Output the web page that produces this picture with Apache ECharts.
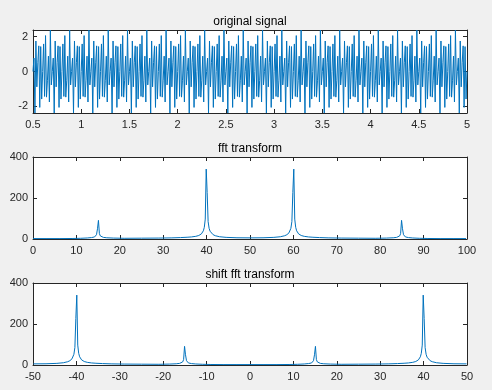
<!DOCTYPE html>
<html><head><meta charset="utf-8">
<script src="https://cdn.jsdelivr.net/npm/echarts@6/dist/echarts.min.js"></script>
<style>html,body{margin:0;padding:0;background:#f0f0f0;}#c{width:492px;height:390px;}</style>
</head><body><div id="c"></div>
<script>
// sampling grid of the time signal (t = 0.5 : 0.01 : 5)
const signalStart = 0.5;
const signalStep = 0.01;
// signal values (one value per sample)
const signalValues = [
0,0.77,-2.38,1.75,-0.88,0.5,1.47,-2.06,1.43,-1.58,0,1.58,-1.43,2.06,-1.47,-0.5,0.88,-1.75,2.38,-0.77,
0,0.77,-2.38,1.75,-0.88,0.5,1.47,-2.06,1.43,-1.58,0,1.58,-1.43,2.06,-1.47,-0.5,0.88,-1.75,2.38,-0.77,
0,0.77,-2.38,1.75,-0.88,0.5,1.47,-2.06,1.43,-1.58,0,1.58,-1.43,2.06,-1.47,-0.5,0.88,-1.75,2.38,-0.77,
0,0.77,-2.38,1.75,-0.88,0.5,1.47,-2.06,1.43,-1.58,0,1.58,-1.43,2.06,-1.47,-0.5,0.88,-1.75,2.38,-0.77,
0,0.77,-2.38,1.75,-0.88,0.5,1.47,-2.06,1.43,-1.58,0,1.58,-1.43,2.06,-1.47,-0.5,0.88,-1.75,2.38,-0.77,
0,0.77,-2.38,1.75,-0.88,0.5,1.47,-2.06,1.43,-1.58,0,1.58,-1.43,2.06,-1.47,-0.5,0.88,-1.75,2.38,-0.77,
0,0.77,-2.38,1.75,-0.88,0.5,1.47,-2.06,1.43,-1.58,0,1.58,-1.43,2.06,-1.47,-0.5,0.88,-1.75,2.38,-0.77,
0,0.77,-2.38,1.75,-0.88,0.5,1.47,-2.06,1.43,-1.58,0,1.58,-1.43,2.06,-1.47,-0.5,0.88,-1.75,2.38,-0.77,
0,0.77,-2.38,1.75,-0.88,0.5,1.47,-2.06,1.43,-1.58,0,1.58,-1.43,2.06,-1.47,-0.5,0.88,-1.75,2.38,-0.77,
0,0.77,-2.38,1.75,-0.88,0.5,1.47,-2.06,1.43,-1.58,0,1.58,-1.43,2.06,-1.47,-0.5,0.88,-1.75,2.38,-0.77,
0,0.77,-2.38,1.75,-0.88,0.5,1.47,-2.06,1.43,-1.58,0,1.58,-1.43,2.06,-1.47,-0.5,0.88,-1.75,2.38,-0.77,
0,0.77,-2.38,1.75,-0.88,0.5,1.47,-2.06,1.43,-1.58,0,1.58,-1.43,2.06,-1.47,-0.5,0.88,-1.75,2.38,-0.77,
0,0.77,-2.38,1.75,-0.88,0.5,1.47,-2.06,1.43,-1.58,0,1.58,-1.43,2.06,-1.47,-0.5,0.88,-1.75,2.38,-0.77,
0,0.77,-2.38,1.75,-0.88,0.5,1.47,-2.06,1.43,-1.58,0,1.58,-1.43,2.06,-1.47,-0.5,0.88,-1.75,2.38,-0.77,
0,0.77,-2.38,1.75,-0.88,0.5,1.47,-2.06,1.43,-1.58,0,1.58,-1.43,2.06,-1.47,-0.5,0.88,-1.75,2.38,-0.77,
0,0.77,-2.38,1.75,-0.88,0.5,1.47,-2.06,1.43,-1.58,0,1.58,-1.43,2.06,-1.47,-0.5,0.88,-1.75,2.38,-0.77,
0,0.77,-2.38,1.75,-0.88,0.5,1.47,-2.06,1.43,-1.58,0,1.58,-1.43,2.06,-1.47,-0.5,0.88,-1.75,2.38,-0.77,
0,0.77,-2.38,1.75,-0.88,0.5,1.47,-2.06,1.43,-1.58,0,1.58,-1.43,2.06,-1.47,-0.5,0.88,-1.75,2.38,-0.77,
0,0.77,-2.38,1.75,-0.88,0.5,1.47,-2.06,1.43,-1.58,0,1.58,-1.43,2.06,-1.47,-0.5,0.88,-1.75,2.38,-0.77,
0,0.77,-2.38,1.75,-0.88,0.5,1.47,-2.06,1.43,-1.58,0,1.58,-1.43,2.06,-1.47,-0.5,0.88,-1.75,2.38,-0.77,
0,0.77,-2.38,1.75,-0.88,0.5,1.47,-2.06,1.43,-1.58,0,1.58,-1.43,2.06,-1.47,-0.5,0.88,-1.75,2.38,-0.77,
0,0.77,-2.38,1.75,-0.88,0.5,1.47,-2.06,1.43,-1.58,0,1.58,-1.43,2.06,-1.47,-0.5,0.88,-1.75,2.38,-0.77,
0,0.77,-2.38,1.75,-0.88,0.5,1.47,-2.06,1.43,-1.58,0
];

// fft magnitude spectrum (frequency, magnitude)
const fftFreq = [0,3,6,9,11,12.5,13.5,14.19,14.41,14.63,14.86,15.08,15.30,15.52,15.74,16.2,17,18.5,21,25,29,32,34,35.5,36.5,37.5,38.2,38.8,
  39.02,39.25,39.47,39.69,39.91,40.13,40.35,40.58,40.80,41.02,41.5,42,43,44.5,47,50,53,55.5,57,58,58.5,
  58.98,59.20,59.42,59.65,59.87,60.09,60.31,60.53,60.75,60.98,61.2,61.8,62.5,63.5,64.5,66,68,71,75,79,81.5,83,83.8,
  84.26,84.48,84.70,84.92,85.14,85.37,85.59,85.81,86.5,87.5,89,91,94,97,99.78];
const fftMag = [2,2,2,2.5,3.5,5,7,10,14,21,50,91,26,15,11,8,6,4.5,3.5,4,4.5,5.5,7,8.5,10,13,17,25,
  31,40,57,97,341,227,85,52,38,30,21,16,11,8,6,5.5,6,8,11,16,21,
  30,38,52,85,227,341,97,57,40,31,25,17,13,10,8.5,7,5.5,4.5,4,3.5,4.5,6,8,
  11,15,26,91,50,21,14,10,7,5,3.5,2.5,2,2,2];

// shifted spectrum (frequency, magnitude)
const shiftFreq = [-49.89,-47,-44.5,-43,-42,-41.5,-41.02,-40.80,-40.58,-40.35,-40.13,-39.91,-39.69,-39.47,-39.25,-39.02,-38.8,-38.2,-37.5,-36.5,-35.5,-34,-32,-29,-25,-21,
  -18.5,-17,-16.2,-15.74,-15.52,-15.30,-15.08,-14.86,-14.63,-14.41,-14.19,-13.5,-12.5,-11,-9,-6,-3,
  0,3,6,9,11,12.5,13.5,14.19,14.41,14.63,14.86,15.08,15.30,15.52,15.74,16.2,17,18.5,21,25,29,32,34,35.5,36.5,37.5,38.2,38.8,
  39.02,39.25,39.47,39.69,39.91,40.13,40.35,40.58,40.80,41.02,41.5,42,43,44.5,47,49.89];
const shiftMag = [5.5,6,8,11,16,21,30,38,52,85,227,341,97,57,40,31,25,17,13,10,8.5,7,5.5,4.5,4,3.5,
  4.5,6,8,11,15,26,91,50,21,14,10,7,5,3.5,2.5,2,2,
  2,2,2,2.5,3.5,5,7,10,14,21,50,91,26,15,11,8,6,4.5,3.5,4,4.5,5.5,7,8.5,10,13,17,25,
  31,40,57,97,341,227,85,52,38,30,21,16,11,8,6,5.5];

const titles = ['original signal', 'fft transform', 'shift fft transform'];
const xRanges = [[0.5, 5, 0.5], [0, 100, 10], [-50, 50, 10]];
const yRanges = [[-2.38, 2.38], [0, 400, 200], [0, 400, 200]];
const yTickValues = [[-2, 0, 2], [0, 200, 400], [0, 200, 400]];

const FONT = "'Liberation Sans', Arial, sans-serif";
const AX = '#262626';
const LINE = '#0072BD';

const grids = [
  {left: 33, top: 30, width: 434, height: 83},
  {left: 33, top: 157, width: 434, height: 82},
  {left: 33, top: 283, width: 434, height: 82}
].map(g => Object.assign({show: true, backgroundColor: '#ffffff', borderWidth: 0}, g));

const xAxes = [], yAxes = [];
for (let i = 0; i < 3; i++) {
  const [xmin, xmax, xint] = xRanges[i];
  const base = {
    type: 'value', gridIndex: i, min: xmin, max: xmax, interval: xint,
    axisLine: {show: true, onZero: false, lineStyle: {color: AX, width: 1}},
    axisTick: {show: true, inside: true, length: 4, lineStyle: {color: AX}},
    splitLine: {show: false}
  };
  xAxes.push(Object.assign({}, base, {
    position: 'bottom',
    axisLabel: {show: true, margin: 6, color: AX, fontSize: 11, fontFamily: FONT}
  }));
  xAxes.push(Object.assign({}, base, {
    position: 'top',
    axisLabel: {show: false},
    name: titles[i], nameLocation: 'middle', nameGap: 2,
    nameTextStyle: {color: '#000', fontSize: 12, fontFamily: FONT, verticalAlign: 'bottom'}
  }));
  const ymin = yRanges[i][0], ymax = yRanges[i][1];
  const ybase = {
    type: 'value', gridIndex: i, min: ymin, max: ymax,
    axisLine: {show: true, onZero: false, lineStyle: {color: AX, width: 1}},
    axisTick: {show: true, inside: true, length: 4, lineStyle: {color: AX}, customValues: yTickValues[i]},
    splitLine: {show: false}
  };
  yAxes.push(Object.assign({}, ybase, {
    position: 'left',
    axisLabel: {show: true, margin: 5, color: AX, fontSize: 11, fontFamily: FONT, customValues: yTickValues[i]}
  }));
  yAxes.push(Object.assign({}, ybase, {
    position: 'right',
    axisLabel: {show: false}
  }));
}

const signalData = signalValues.map((v, i) => [+(signalStart + i * signalStep).toFixed(2), v]);
const fftData = fftFreq.map((f, i) => [f, fftMag[i]]);
const shiftData = shiftFreq.map((f, i) => [f, shiftMag[i]]);

const mkSeries = (data, idx) => ({
  type: 'line', data: data, xAxisIndex: idx * 2, yAxisIndex: idx * 2,
  showSymbol: false, symbol: 'none', silent: true, animation: false,
  lineStyle: {color: LINE, width: 1}, clip: true
});

const chart = echarts.init(document.getElementById('c'), null, {renderer: 'canvas'});
chart.setOption({
  backgroundColor: '#f0f0f0',
  animation: false,
  grid: grids,
  xAxis: xAxes,
  yAxis: yAxes,
  series: [mkSeries(signalData, 0), mkSeries(fftData, 1), mkSeries(shiftData, 2)]
});
</script>
</body></html>
